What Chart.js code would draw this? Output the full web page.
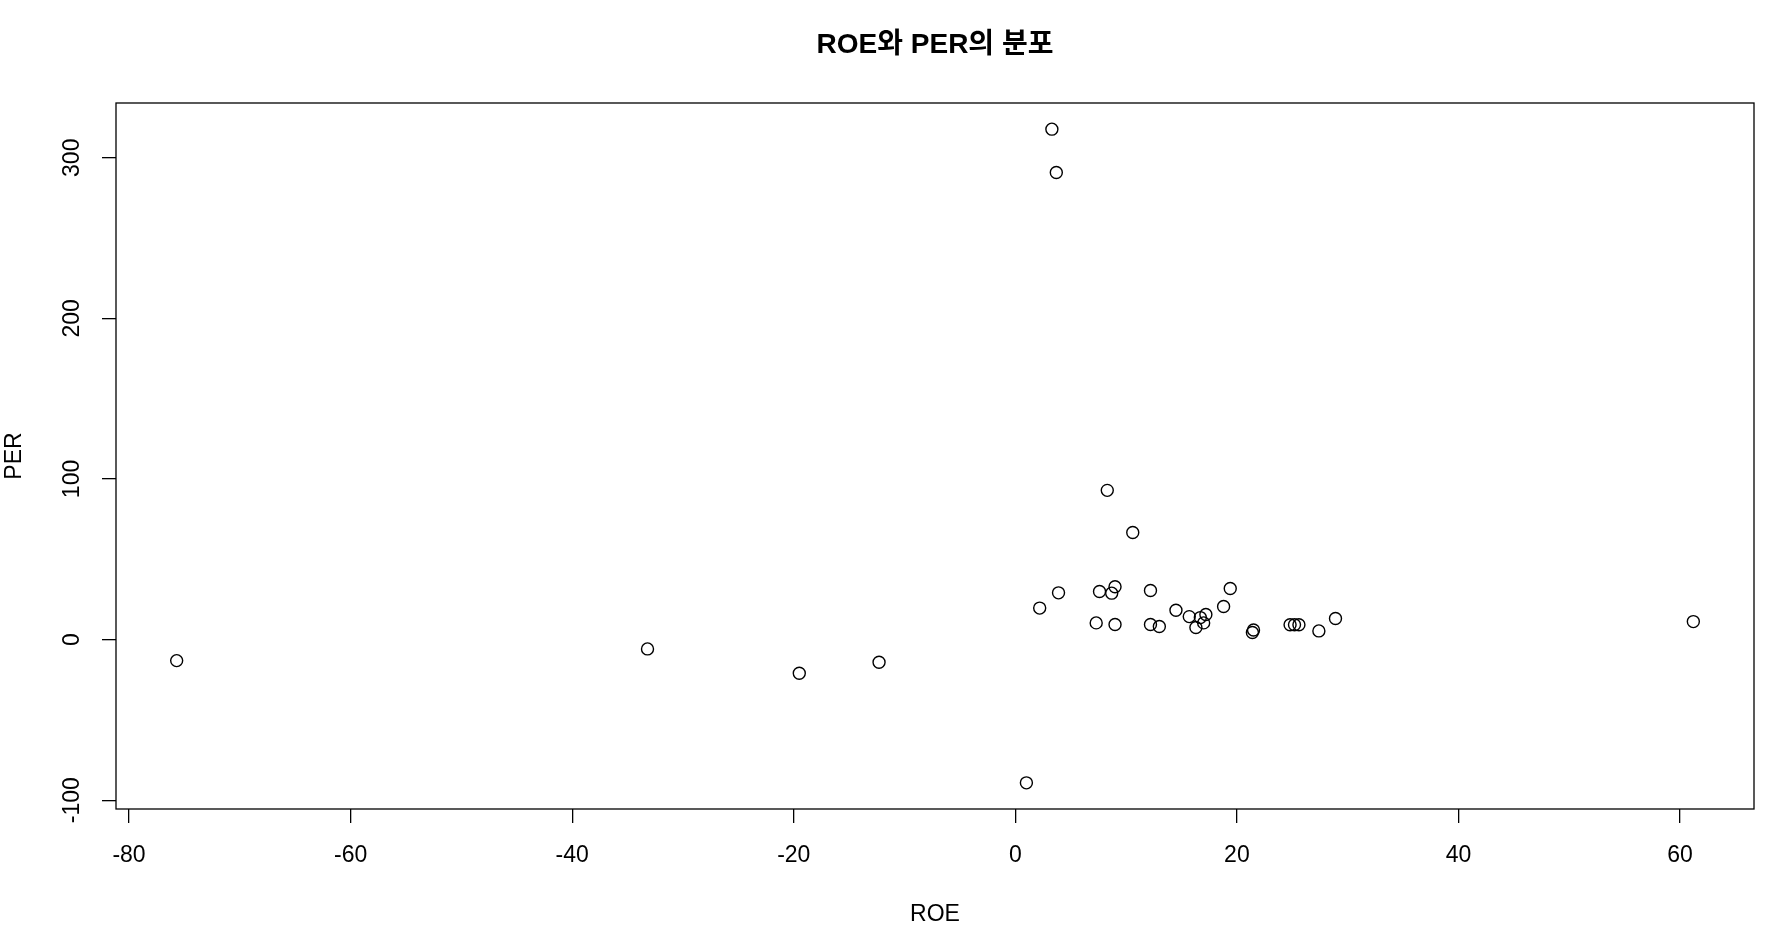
<!DOCTYPE html>
<html>
<head>
<meta charset="utf-8">
<script src="https://cdn.jsdelivr.net/npm/chart.js@4"></script>
<style>
  body { margin: 0; background: #fff; }
  #wrap { width: 1788px; height: 940px; }
</style>
</head>
<body>
<div id="wrap"><canvas id="plot" width="1788" height="940"></canvas></div>
<script>
// values
const roe = [-75.7, -33.2, -19.5, -12.3, 1.0, 3.3, 3.7, 8.3, 10.6, 3.9, 2.2, 7.6, 8.7, 9.0, 7.3, 9.0,
  12.2, 12.2, 13.0, 14.5, 15.7, 16.7, 17.2, 17.0, 16.3, 18.8, 19.4, 21.5, 21.4, 24.8, 25.2, 25.6,
  27.4, 28.9, 61.2];
const per = [-13.1, -5.8, -21.0, -14.1, -89.2, 317.8, 290.8, 92.9, 66.7, 29.1, 19.6, 29.9, 28.9, 32.9, 10.4, 9.4,
  30.6, 9.4, 8.1, 18.3, 14.3, 13.7, 15.6, 10.4, 7.5, 20.6, 31.8, 6.0, 4.4, 9.2, 9.2, 9.2,
  5.4, 13.1, 11.2];
const xTicks = [-80, -60, -40, -20, 0, 20, 40, 60];
const yTicks = [-100, 0, 100, 200, 300];

const titleText = 'ROE와 PER의 분포';
const xTitle = 'ROE';
const yTitle = 'PER';
const fontFamily = '"Liberation Sans", Arial, "Noto Sans CJK KR", sans-serif';

// R style pads the data range by 4% on each side
function padRange(vals) {
  const lo = Math.min(...vals), hi = Math.max(...vals);
  const ext = (hi - lo) * 0.04;
  return [lo - ext, hi + ext];
}
const [xMin, xMax] = padRange(roe);
const [yMin, yMax] = padRange(per);

const points = roe.map((v, i) => ({x: v, y: per[i]}));

// box, title, axis titles and rotated y labels like base R
const rPlot = {
  id: 'rPlot',
  afterDraw(chart) {
    const {ctx, chartArea: a, scales} = chart;
    const cx = (a.left + a.right) / 2;
    const cy = (a.top + a.bottom) / 2;
    ctx.save();
    ctx.strokeStyle = '#000';
    ctx.lineWidth = 1.3;
    ctx.strokeRect(a.left, a.top, a.right - a.left, a.bottom - a.top);

    ctx.fillStyle = '#000';
    ctx.textAlign = 'center';
    ctx.textBaseline = 'middle';
    ctx.font = 'bold 28px ' + fontFamily;
    ctx.fillText(titleText, cx, 45);

    ctx.font = '23px ' + fontFamily;
    ctx.fillText(xTitle, cx, 915);

    ctx.save();
    ctx.translate(15, cy);
    ctx.rotate(-Math.PI / 2);
    ctx.fillText(yTitle, 0, 0);
    ctx.restore();

    scales.y.ticks.forEach(t => {
      const py = scales.y.getPixelForValue(t.value);
      ctx.save();
      ctx.translate(73, py);
      ctx.rotate(-Math.PI / 2);
      ctx.fillText(String(t.value), 0, 0);
      ctx.restore();
    });
    ctx.restore();
  }
};

new Chart(document.getElementById('plot'), {
  type: 'scatter',
  data: {
    datasets: [{
      data: points,
      pointStyle: 'circle',
      pointRadius: 6,
      pointHoverRadius: 6,
      pointBorderWidth: 1.4,
      pointBorderColor: '#000',
      pointBackgroundColor: 'rgba(0,0,0,0)',
    }]
  },
  options: {
    responsive: false,
    animation: false,
    layout: {padding: {top: 103, right: 34, left: 0, bottom: 0}},
    plugins: {
      legend: {display: false},
      title: {display: false},
      tooltip: {enabled: false},
    },
    scales: {
      x: {
        type: 'linear',
        min: xMin,
        max: xMax,
        afterBuildTicks: s => { s.ticks = xTicks.map(v => ({value: v})); },
        afterFit: s => { s.height = 131; },
        grid: {drawOnChartArea: false, drawTicks: true, tickLength: 14, color: '#000', lineWidth: 1.3},
        border: {display: false},
        ticks: {
          color: '#000',
          padding: 19,
          maxRotation: 0,
          autoSkip: false,
          font: {family: fontFamily, size: 23},
        },
      },
      y: {
        type: 'linear',
        min: yMin,
        max: yMax,
        afterBuildTicks: s => { s.ticks = yTicks.map(v => ({value: v})); },
        afterFit: s => { s.width = 116; },
        grid: {drawOnChartArea: false, drawTicks: true, tickLength: 14, color: '#000', lineWidth: 1.3},
        border: {display: false},
        ticks: {display: false},
      }
    }
  },
  plugins: [rPlot]
});
</script>
</body>
</html>
